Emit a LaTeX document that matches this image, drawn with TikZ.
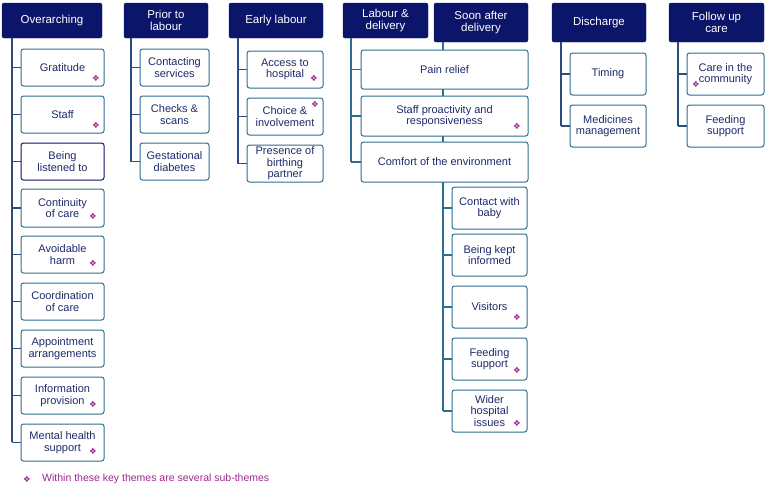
\documentclass[tikz,border=0pt]{standalone}
\usepackage{fontspec}
\setmainfont{Liberation Sans}
\newfontfamily\symf{DejaVu Sans}
\definecolor{navy}{HTML}{0B1569}
\definecolor{txt}{HTML}{1F2A6B}
\definecolor{edge}{HTML}{2E6E8E}
\definecolor{line}{HTML}{2B4C7E}
\definecolor{mag}{HTML}{A0288C}
\begin{document}
\begin{tikzpicture}[x=1pt,y=-1pt,
  hdr/.style={fill=navy,draw=navy,rounded corners=2pt,text=white,align=center,font=\fontsize{11.5}{12.5}\selectfont,inner sep=0pt},
  box/.style={fill=white,draw=edge,line width=1pt,rounded corners=2.5pt,text=txt,align=center,font=\fontsize{11}{11.5}\selectfont,inner sep=0pt},
  conn/.style={draw=line,line width=1.1pt},
  mk/.style={text=mag,font=\symf\fontsize{8.5}{8.5}\selectfont,inner sep=0pt}]
\useasboundingbox (0,0) rectangle (768,490);
\newcommand{\hd}[6]{\node[hdr,minimum width=#4-#2,minimum height=#5-#3] (#1) at ({(#2+#4)/2},{(#3+#5)/2}) {#6};}
\newcommand{\bx}[6]{\node[box,minimum width=#4-#2,minimum height=#5-#3] (#1) at ({(#2+#4)/2},{(#3+#5)/2}) {#6};}
% headers
\hd{h1}{2}{3}{102}{38}{Overarching}
\hd{h2}{124}{3}{208}{38}{Prior to\\labour}
\hd{h3}{229}{3}{323}{38}{Early labour}
\hd{h4}{343}{3}{428}{38}{Labour \&\\delivery}
\hd{h5}{434}{3}{528}{42}{Soon after\\delivery}
\hd{h6}{552}{3}{646}{42}{Discharge}
\hd{h7}{669}{3}{764}{42}{Follow up\\care}
% connectors (drawn first)
\coordinate (t1) at (12,38); \coordinate (t1e) at (12,442);
\draw[conn] (t1) -- (t1e);
\foreach \y in {67.5,114.5,161.5,208,254.5,301.5,348.5,395.5,442.5} \draw[conn] (12,\y) -- (21,\y);
\draw[conn] (131,38) -- (131,161.5);
\foreach \y in {67.5,114.5,161.5} \draw[conn] (131,\y) -- (140,\y);
\draw[conn] (238,38) -- (238,163.5);
\foreach \y in {69.5,116.5,163.5} \draw[conn] (238,\y) -- (247,\y);
\draw[conn,draw=edge] (351,38) -- (351,162);
\foreach \y in {69.5,116,162} \draw[conn,draw=edge] (351,\y) -- (361,\y);
\draw[conn,draw=edge] (443,42) -- (443,142);
\draw[conn,draw=edge] (443,182) -- (443,411);
\foreach \y in {208,255,307,359,411} \draw[conn,draw=edge] (443,\y) -- (452,\y);
\draw[conn] (561,42) -- (561,126);
\foreach \y in {74,126} \draw[conn] (561,\y) -- (570,\y);
\draw[conn] (678,42) -- (678,126);
\foreach \y in {74,126} \draw[conn] (678,\y) -- (687,\y);
% boxes
\bx{a1}{21}{49}{104}{86}{Gratitude}
\bx{a2}{21}{96}{104}{133}{Staff}
\node[box,draw=navy,minimum width=83,minimum height=37] (a3) at (62.5,161.5) {Being\\listened to};
\bx{a4}{21}{189}{104}{227}{Continuity\\of care}
\bx{a5}{21}{236}{104}{273}{Avoidable\\harm}
\bx{a6}{21}{283}{104}{320}{Coordination\\of care}
\bx{a7}{21}{330}{104}{367}{Appointment\\arrangements}
\bx{a8}{21}{377}{104}{414}{Information\\provision}
\bx{a9}{21}{424}{104}{461}{Mental health\\support}
\bx{b1}{140}{49}{209}{86}{Contacting\\services}
\bx{b2}{140}{96}{209}{133}{Checks \&\\scans}
\bx{b3}{140}{143}{209}{180}{Gestational\\diabetes}
\bx{c1}{247}{51}{323}{88}{Access to\\hospital}
\bx{c2}{247}{98}{323}{135}{Choice \&\\involvement}
\bx{c3}{247}{145}{323}{182}{Presence of\\birthing\\partner}
\bx{d1}{361}{50}{528}{89}{Pain relief}
\bx{d2}{361}{96}{528}{136}{Staff proactivity and\\responsiveness}
\bx{d3}{361}{142}{528}{182}{Comfort of the environment}
\bx{e1}{452}{187}{527}{229}{Contact with\\baby}
\bx{e2}{452}{234}{527}{276}{Being kept\\informed}
\bx{e3}{452}{286}{527}{328}{Visitors}
\bx{e4}{452}{338}{527}{380}{Feeding\\support}
\bx{e5}{452}{390}{527}{432}{Wider\\hospital\\issues}
\bx{f1}{570}{53}{646}{95}{Timing}
\bx{f2}{570}{105}{646}{147}{Medicines\\management}
\bx{g1}{687}{53}{764}{95}{Care in the\\community}
\bx{g2}{687}{105}{764}{147}{Feeding\\support}
% markers
\foreach \p [count=\i] in {(96,78),(96,125),(93,216),(93,263),(93,404),(93,451),(314,78),(315,104),(517,126),(517,317),(517,370),(517,423),(696,84)}
  \node[mk] (m\i) at \p {❖};
\node[mk] (lm) at (27,479) {❖};
\node[anchor=west,text=mag,font=\fontsize{10.5}{11}\selectfont,inner sep=0pt] (leg) at (42,479) {Within these key themes are several sub-themes};
\end{tikzpicture}
\end{document}
